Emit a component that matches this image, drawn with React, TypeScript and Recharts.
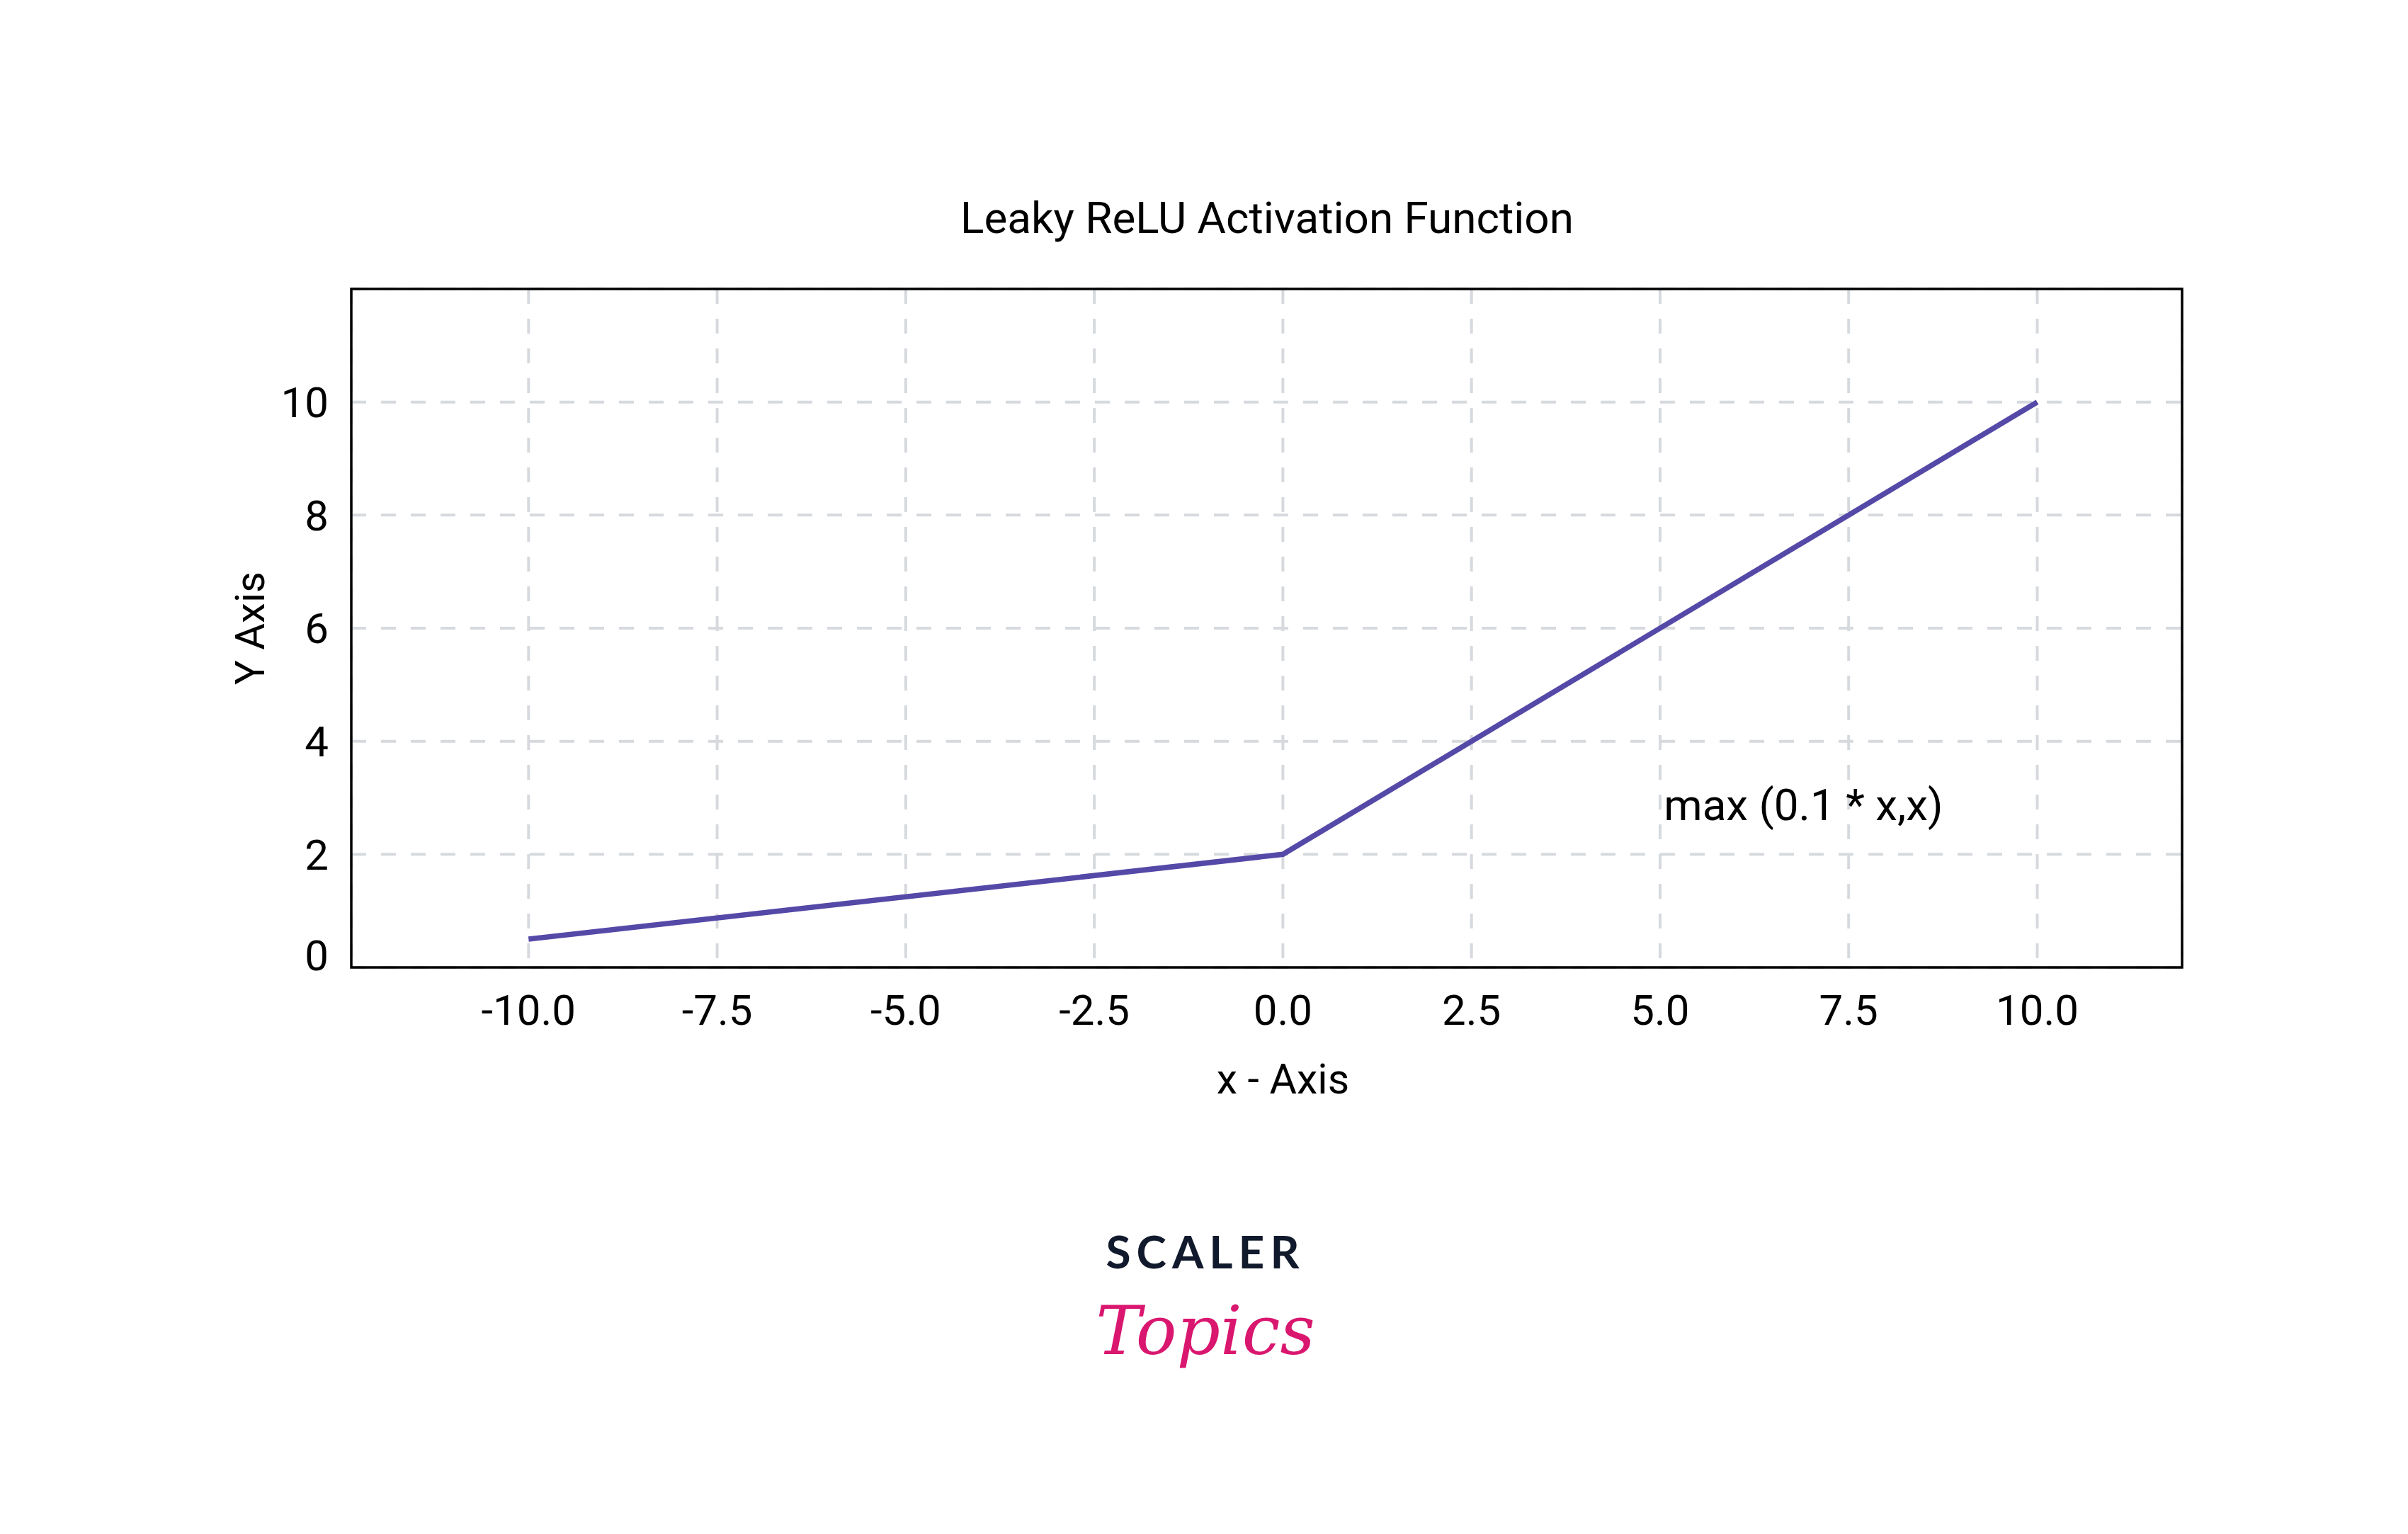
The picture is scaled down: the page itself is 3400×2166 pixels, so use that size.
import { CartesianGrid, Line, LineChart, ReferenceArea, ReferenceDot, XAxis, YAxis } from "recharts"

const xValues = [-10, 0, 10]
const yValues = [0.5, 2, 10]
const xTicks = [-10, -7.5, -5, -2.5, 0, 2.5, 5, 7.5, 10]
const yTicks = [0, 2, 4, 6, 8, 10]
const X_MIN = -12.35
const X_MAX = 11.92
const Y_MIN = 0
const Y_MAX = 12

const data = xValues.map((x, i) => ({ x, y: yValues[i] }))

const FONT = "Roboto, 'Noto Sans', sans-serif"

function YTick({ x, y, payload }: any) {
  // the bottom label sits a little above the frame in the original
  const lift = payload.value === 0 ? -17 : 0
  return (
    <text x={x} y={y + lift} dy="0.355em" textAnchor="end" fontSize={60} fontFamily={FONT} fill="#000">
      {payload.value}
    </text>
  )
}

export default function App() {
  return (
    <div style={{ position: "absolute", left: 0, top: 0, width: 3400, height: 2166, background: "#fff" }}>
      <LineChart width={3400} height={2166} data={data} margin={{ top: 408, right: 319, bottom: 700, left: 346 }}>
        <CartesianGrid stroke="#d6d9dd" strokeWidth={4} strokeDasharray="21 21" />
        <XAxis
          dataKey="x"
          type="number"
          domain={[X_MIN, X_MAX]}
          ticks={xTicks}
          allowDataOverflow
          height={100}
          axisLine={false}
          tickLine={false}
          tickSize={0}
          tickMargin={38}
          tickFormatter={(v: number) => v.toFixed(1)}
          tick={{ fontSize: 60, fontFamily: FONT, fill: "#000" }}
          label={{
            content: ({ viewBox }: any) => (
              <text
                x={viewBox.x + (viewBox.width * (0 - X_MIN)) / (X_MAX - X_MIN)}
                y={viewBox.y + 178}
                textAnchor="middle"
                fontSize={59}
                fontFamily={FONT}
                fill="#000"
              >
                x - Axis
              </text>
            ),
          }}
        />
        <YAxis
          type="number"
          domain={[Y_MIN, Y_MAX]}
          ticks={yTicks}
          allowDataOverflow
          width={150}
          axisLine={false}
          tickLine={false}
          tickSize={0}
          tickMargin={32}
          tick={<YTick />}
          label={{
            content: ({ viewBox }: any) => {
              const cx = viewBox.x + viewBox.width - 143
              const cy = viewBox.y + viewBox.height / 2
              return (
                <text
                  x={cx}
                  y={cy}
                  transform={`rotate(-90, ${cx}, ${cy})`}
                  textAnchor="middle"
                  dominantBaseline="central"
                  fontSize={58}
                  fontFamily={FONT}
                  fill="#000"
                >
                  Y Axis
                </text>
              )
            },
          }}
        />
        <ReferenceArea
          x1={X_MIN}
          x2={X_MAX}
          y1={Y_MIN}
          y2={Y_MAX}
          fill="none"
          stroke="#000"
          strokeWidth={3.5}
          fillOpacity={0}
          ifOverflow="visible"
        />
        <Line
          type="linear"
          dataKey="y"
          stroke="#5549a8"
          strokeWidth={7.5}
          dot={false}
          activeDot={false}
          isAnimationActive={false}
        />
        <ReferenceDot
          x={5.05}
          y={2.6}
          r={0}
          ifOverflow="visible"
          shape={(p: any) => (
            <text x={p.cx} y={p.cy} fontSize={62} fontFamily={FONT} fill="#000">
              max (0.1 * x,x)
            </text>
          )}
        />
      </LineChart>
      <svg width={3400} height={2166} style={{ position: "absolute", left: 0, top: 0, pointerEvents: "none" }}>
        <text x={1789} y={329} textAnchor="middle" fontSize={62} fontFamily={FONT} fill="#000">
          Leaky ReLU Activation Function
        </text>
        <text
          x={1702}
          y={1791}
          textAnchor="middle"
          fontSize={64}
          fontWeight={700}
          letterSpacing={8}
          fontFamily="Lato, Roboto, sans-serif"
          fill="#111a2c"
        >
          SCALER
        </text>
        <text
          x={1702}
          y={1912}
          textAnchor="middle"
          fontSize={96}
          fontStyle="italic"
          fontFamily="'DejaVu Serif', serif"
          fill="#d9176f"
        >
          Topics
        </text>
      </svg>
    </div>
  )
}
